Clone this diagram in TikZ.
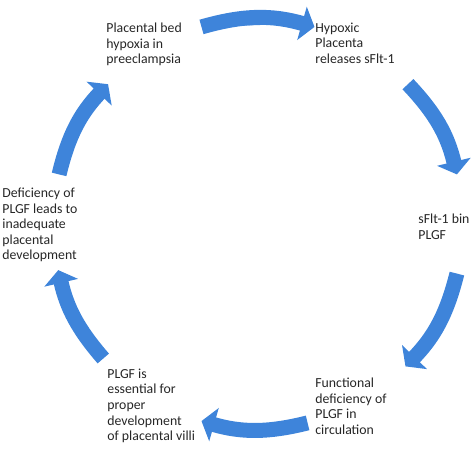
\documentclass[tikz,border=0pt]{standalone}
\usepackage{fontspec}
\setmainfont{Carlito}
\usetikzlibrary{arrows.meta}
\definecolor{cycblue}{RGB}{62,132,218}

\begin{document}
\begin{tikzpicture}[x=1pt,y=1pt,>={Triangle[length=13pt,width=34pt]},thick]
  \tikzstyle{phase}=[anchor=north west,inner sep=0pt,align=left,text=black!85,font=\fontsize{13.8}{15.6}\selectfont]
  \tikzstyle{cycle arrow}=[->,draw=cycblue,fill=cycblue,line width=15pt]

  \useasboundingbox (-258,-229) rectangle (216,224);

  \node[phase] (bed)   at (-152,201.5) {Placental bed\\hypoxia in\\preeclampsia};
  \node[phase] (hyp)   at (57,201.5)   {Hypoxic\\Placenta\\releases sFlt-1};
  \node[phase] (bind)  at (160,10.5)   {sFlt-1 bin\\PLGF};
  \node[phase] (func)  at (57,-153.5)  {Functional\\deficiency of\\PLGF in\\circulation};
  \node[phase] (ess)   at (-151,-144.5) {PLGF is\\essential for\\proper\\development\\of placental villi};
  \node[phase] (defic) at (-256,36.5)  {Deficiency of\\PLGF leads to\\inadequate\\placental\\development};

  \coordinate (a1s) at (106:205); \coordinate (a1e) at (74:205);
  \coordinate (a2s) at (43:205);  \coordinate (a2e) at (14:205);
  \coordinate (a3s) at (-14:205); \coordinate (a3e) at (-44:205);
  \coordinate (a4s) at (-76:205); \coordinate (a4e) at (-106:205);
  \coordinate (a5s) at (221:205); \coordinate (a5e) at (193:205);
  \coordinate (a6s) at (166:205); \coordinate (a6e) at (137:205);

  \draw[cycle arrow] (a1s) to[bend left=16] (a1e);
  \draw[cycle arrow] (a2s) to[bend left=15] (a2e);
  \draw[cycle arrow] (a3s) to[bend left=15] (a3e);
  \draw[cycle arrow] (a4s) to[bend left=15] (a4e);
  \draw[cycle arrow] (a5s) to[bend left=14] (a5e);
  \draw[cycle arrow] (a6s) to[bend left=15] (a6e);
\end{tikzpicture}
\end{document}
